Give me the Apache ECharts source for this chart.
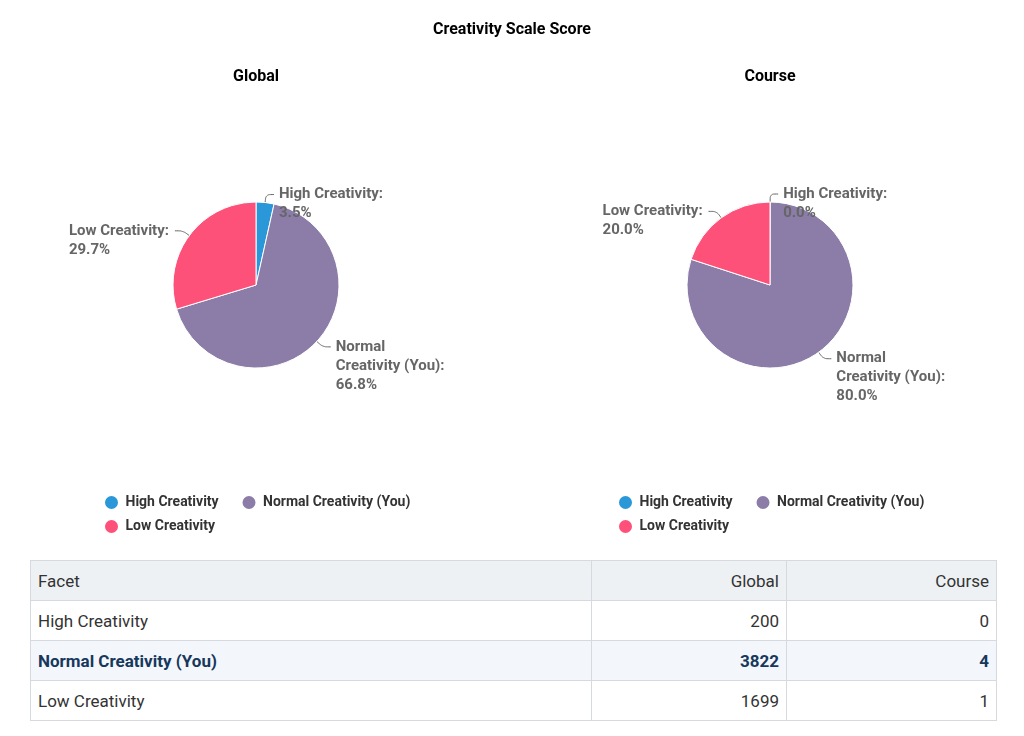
<!DOCTYPE html>
<html>
<head>
<meta charset="utf-8">
<script src="https://cdn.jsdelivr.net/npm/echarts@6/dist/echarts.min.js"></script>
<style>
  html, body { margin: 0; padding: 0; background: #fff; font-family: Roboto, "Noto Sans", sans-serif; }
  #chart { width: 1024px; height: 556px; }
  table { position: absolute; left: 30px; top: 560px; width: 967px; border-collapse: collapse; font-family: Roboto, sans-serif; font-size: 17px; color: #333; }
  td, th { border: 1px solid #d6dadf; height: 39px; padding: 0 7px; font-weight: normal; }
  th { background: #eef1f4; }
  td.num, th.num { text-align: right; }
  th.facet, td.facet { text-align: left; }
  tr.you td { background: #f3f7fb; color: #17385c; font-weight: bold; }
</style>
</head>
<body>
<div id="chart"></div>
<table id="tbl"></table>
<script>
const categories = ['High Creativity', 'Normal Creativity (You)', 'Low Creativity'];
const globalValues = [200, 3822, 1699];
const courseValues = [0, 4, 1];
const youCategory = 'Normal Creativity (You)';
const colors = ['#2a97d8', '#8c7ca8', '#fd5179'];

// table
const tbl = document.getElementById('tbl');
let html = '<tr><th class="facet" style="width:546px">Facet</th><th class="num" style="width:180px">Global</th><th class="num">Course</th></tr>';
categories.forEach((c, i) => {
  html += '<tr' + (c === youCategory ? ' class="you"' : '') + '><td class="facet">' + c + '</td><td class="num">' + globalValues[i] + '</td><td class="num">' + courseValues[i] + '</td></tr>';
});
tbl.innerHTML = html;

const chart = echarts.init(document.getElementById('chart'));
const labelFont = { color: '#666', fontSize: 15, fontWeight: 'bold', fontFamily: 'Roboto', lineHeight: 19 };

function fmt(p) {
  let name = p.name;
  const sp = name.indexOf(' ');
  if (name.length > 16 && sp > 0) name = name.slice(0, sp) + '\n' + name.slice(sp + 1);
  const lines = (name + ':\n' + p.percent.toFixed(1) + '%').split('\n');
  // pad with blank lines above so the first text line sits at the connector
  const pad = [];
  for (let k = 0; k < lines.length - 1; k++) pad.push('{t| }');
  return pad.concat(lines.map(l => '{t|' + l + '}')).join('\n');
}

function mkData(values, leftWidth) {
  return categories.map((c, i) => {
    const d = { name: c, value: values[i] };
    if (c === 'Low Creativity') {
      d.label = { rich: { t: Object.assign({}, labelFont, { width: leftWidth, align: 'left' }) } };
    }
    return d;
  });
}

function pieSeries(values, cx) {
  return {
    type: 'pie',
    center: [cx, 285],
    radius: 83,
    startAngle: 90,
    clockwise: true,
    minAngle: 0.2,
    percentPrecision: 1,
    avoidLabelOverlap: false,
    itemStyle: { borderColor: '#fff', borderWidth: 1 },
    label: {
      formatter: fmt,
      rich: { t: Object.assign({}, labelFont) }
    },
    labelLine: { length: 8, length2: 8, smooth: true, lineStyle: { color: '#666', width: 1 } },
    emphasis: { scale: false },
    data: mkData(values, 101)
  };
}

function mkLegend(left) {
  return {
    left: left, top: 494, width: 345, orient: 'horizontal', padding: 0,
    icon: 'circle', itemWidth: 18, itemHeight: 15, itemGap: 7, symbolKeepAspect: true,
    textStyle: { fontSize: 14, lineHeight: 14, fontWeight: 'bold', color: '#333', fontFamily: 'Roboto', width: 108 },
    data: categories
  };
}

const titleStyle = { fontWeight: 'bold', color: '#000', fontFamily: 'Roboto' };
chart.setOption({
  color: colors,
  animation: false,
  textStyle: { fontFamily: 'Roboto' },
  title: [
    { text: 'Creativity Scale Score', left: 'center', top: 22, padding: 0, textStyle: Object.assign({ fontSize: 16 }, titleStyle) },
    { text: 'Global', left: 256, textAlign: 'center', top: 69, padding: 0, textStyle: Object.assign({ fontSize: 16 }, titleStyle) },
    { text: 'Course', left: 770, textAlign: 'center', top: 69, padding: 0, textStyle: Object.assign({ fontSize: 16 }, titleStyle) }
  ],
  legend: [mkLegend(103), mkLegend(617)],
  series: [pieSeries(globalValues, 256), pieSeries(courseValues, 770)]
});
</script>
</body>
</html>
